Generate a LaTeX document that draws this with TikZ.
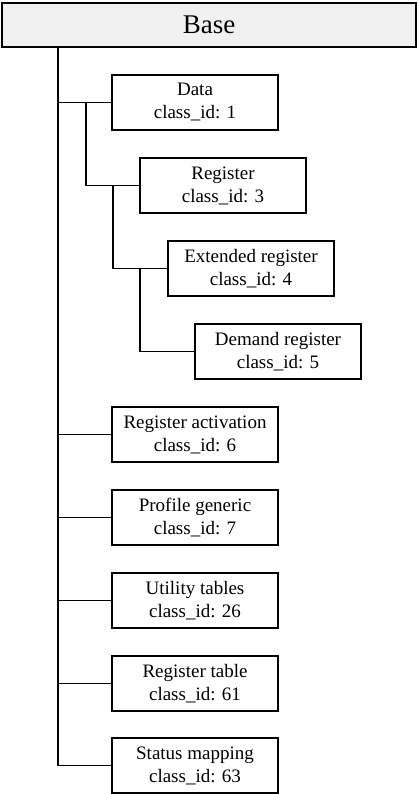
\documentclass[tikz,border=0pt]{standalone}
\usepackage{fontspec}
\setmainfont{Liberation Serif}
\usetikzlibrary{positioning}
\definecolor{basefill}{RGB}{240,240,240}
\tikzset{
  basebox/.style={draw, fill=basefill, minimum width=414pt, minimum height=44pt, inner sep=0pt, outer sep=0pt, font=\fontsize{27}{30}\selectfont},
  cls/.style={draw, fill=white, minimum width=166pt, minimum height=55pt, inner sep=0pt, outer sep=0pt, align=center, font=\fontsize{19}{23}\selectfont},
}
\begin{document}
\begin{tikzpicture}[x=1pt, y=-1pt, line width=1.4pt]
      \useasboundingbox (0,0) rectangle (418,794);
      \node [basebox] (base) at (209,25) {Base};
      \node [cls, below=28pt of base.south west, anchor=north west, xshift=110pt] (data) {Data\\class\_id: 1};
      \node [cls, below=28pt of data.south west, anchor=north west, xshift=28pt] (reg) {Register\\class\_id: 3};
      \node [cls, below=28pt of reg.south west, anchor=north west, xshift=28pt] (ext) {Extended register\\class\_id: 4};
      \node [cls, below=28pt of ext.south west, anchor=north west, xshift=27pt] (dem) {Demand register\\class\_id: 5};
      \coordinate (col) at (dem.south -| data.west);
      \node [cls, below=28pt of col, anchor=north west] (act) {Register activation\\class\_id: 6};
      \node [cls, below=28pt of act.south west, anchor=north west] (prof) {Profile generic\\class\_id: 7};
      \node [cls, below=28pt of prof.south west, anchor=north west] (util) {Utility tables\\class\_id: 26};
      \node [cls, below=28pt of util.south west, anchor=north west] (regtab) {Register table\\class\_id: 61};
      \node [cls, below=27pt of regtab.south west, anchor=north west] (stat) {Status mapping\\class\_id: 63};

      \coordinate (trunk) at ([xshift=56pt]base.south west);
      \coordinate (dtrunk) at ([xshift=-26pt]data.west);
      \coordinate (rtrunk) at ([xshift=-27pt]reg.west);
      \coordinate (etrunk) at ([xshift=-28pt]ext.west);

      \draw (trunk) |- (data.west);
      \draw (trunk) |- (act.west);
      \draw (trunk) |- (prof.west);
      \draw (trunk) |- (util.west);
      \draw (trunk) |- (regtab.west);
      \draw (trunk) |- (stat.west);
      \draw (dtrunk) |- (reg.west);
      \draw (rtrunk) |- (ext.west);
      \draw (etrunk) |- (dem.west);
\end{tikzpicture}
\end{document}
